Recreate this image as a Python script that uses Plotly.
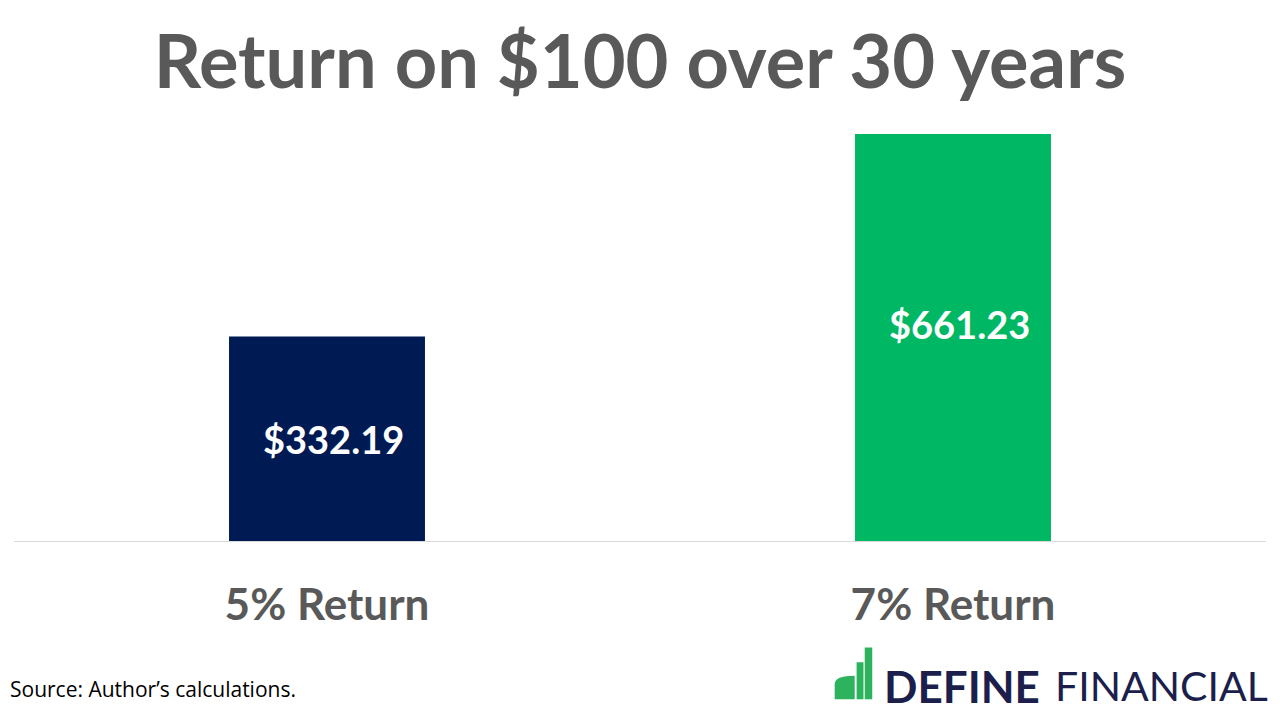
import plotly.graph_objects as go

categories = ["5% Return", "7% Return"]
values = [332.19, 661.23]
labels = ["$332.19", "$661.23"]
colors = ["#001b54", "#00b864"]

title = "Return on $100 over 30 years"
source = "Source: Author’s calculations."

fig = go.Figure()
fig.add_trace(go.Bar(
    x=categories, y=values, marker_color=colors, marker_line_width=0,
    hoverinfo="skip",
))

label_shift_y = [0, 14]
for cat, val, lab, dy in zip(categories, values, labels, label_shift_y):
    fig.add_annotation(x=cat, y=val / 2, text=lab, showarrow=False,
                       xshift=6, yshift=dy, xanchor="center", yanchor="middle",
                       font=dict(family="Lato", size=38, color="white", weight="bold"))

fig.update_layout(
    width=1280, height=720,
    margin=dict(l=14, r=14, t=120, b=179),
    paper_bgcolor="white", plot_bgcolor="white",
    bargap=0.687,
    showlegend=False,
    title=dict(text=title, x=0.5, xanchor="center", y=0.914, yanchor="middle",
               font=dict(family="Lato", size=74, color="#595959", weight="bold")),
    xaxis=dict(showline=True, linecolor="#d9d9d9", linewidth=1, showgrid=False,
               ticks="", tickfont=dict(family="Lato", size=44, color="#595959", weight="bold"),
               ticklabelstandoff=25),
    yaxis=dict(range=[0, 684], visible=False, showgrid=False, zeroline=False),
)

fig.add_annotation(text=source, xref="paper", yref="paper", x=-0.0048, y=-0.352,
                   xanchor="left", yanchor="middle", showarrow=False,
                   font=dict(family="Open Sans", size=21, color="#000000"))

# logo
fig.add_annotation(text="<b>DEFINE</b>", xref="paper", yref="paper", x=0.6933, y=-0.344,
                   xanchor="left", yanchor="middle", showarrow=False,
                   font=dict(family="Lato", size=44, color="#1c1f4c"))
fig.add_annotation(text="FINANCIAL", xref="paper", yref="paper", x=0.8295, y=-0.344,
                   xanchor="left", yanchor="middle", showarrow=False,
                   font=dict(family="Lato", size=41, color="#1c1f4c"))
green = "#2db35d"
fig.add_shape(type="path", xref="x domain", yref="paper",
              path="M 0.6555 -0.376 L 0.6555 -0.34 Q 0.6555 -0.32 0.6715 -0.32 L 0.6715 -0.376 Z",
              fillcolor=green, line_width=0)
fig.add_shape(type="rect", xref="x domain", yref="paper", x0=0.673, x1=0.6785, y0=-0.376, y1=-0.288,
              fillcolor=green, line_width=0)
fig.add_shape(type="rect", xref="x domain", yref="paper", x0=0.6795, x1=0.6855, y0=-0.376, y1=-0.253,
              fillcolor=green, line_width=0)

fig.write_html("out.html", config={"displayModeBar": False},
               post_script="document.body.style.margin='0';")
